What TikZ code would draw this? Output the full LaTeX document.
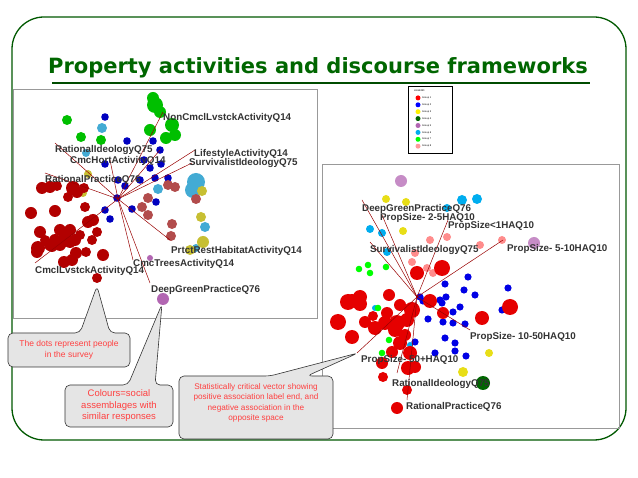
\documentclass[tikz,border=0pt]{standalone}
\usepackage{fontspec}
\setmainfont{Liberation Sans}
\newfontfamily\titlefont{DejaVu Sans}
\begin{document}
\begin{tikzpicture}[x=1pt,y=-1pt,
  lbl/.style={anchor=west,inner sep=0pt,font=\bfseries\fontsize{9.8}{10}\selectfont,text=black!80},
  vec/.style={draw=red!60!black,line width=0.5pt},
  call/.style={draw=black!80,fill=black!10,rounded corners=5pt,line width=0.6pt},
  calltxt/.style={text=red!75!white,align=center,inner sep=0pt}]
\useasboundingbox (0,0) rectangle (638,478);
\fill[white] (0,0) rectangle (638,478);
% frame
\draw[green!35!black,line width=1.3pt,rounded corners=32pt] (12,17) rectangle (626,440);
\node[font=\titlefont\bfseries\fontsize{21}{24}\selectfont,text=green!40!black] (title) at (318,68) {Property activities and discourse frameworks};
\draw[green!30!black,line width=1.5pt] (52,83) -- (590,83);
% legend
\node[draw=black,line width=0.8pt,minimum width=44pt,minimum height=67pt,inner sep=0pt] (legend) at (430,120) {};
\node[font=\fontsize{2.5}{3}\selectfont,anchor=west,inner sep=0pt] (lgh) at (414,91) {LEGEND:};
\foreach \i/\c in {1/red,2/blue,3/yellow,4/green!40!black,5/violet!60,6/cyan,7/green,8/red!40}{
  \fill[\c] (418,{91+6.9*\i}) circle (2.5pt);
  \node[font=\fontsize{2.5}{3}\selectfont,anchor=west,inner sep=0pt] (lg\i) at (422,{91+6.9*\i}) {Group \i};
}
% panels
\draw[black!40,line width=0.8pt] (13,89) rectangle (317,318);
\draw[black!40,line width=0.8pt] (322,164) rectangle (619,428);
% ---- left panel dots
\colorlet{dred}{red!70!black}
\colorlet{rose}{red!40!gray}
\colorlet{olive}{yellow!75!black}
\colorlet{tcyan}{cyan!70!gray}
\foreach \x/\y/\r in {67/120/5,155/105/8,153/98/6,172/125/7,150/130/6,166/138/6,81/137/5,101/140/5,160/112/6,175/135/6}
  \fill[green!75!black] (\x,\y) circle (\r pt);
\foreach \x/\y/\r in {102/128/5,86/153/4,196/182/9,193/190/8,158/189/5,205/227/5,196/248/4}
  \fill[tcyan] (\x,\y) circle (\r pt);
\foreach \x/\y in {105/117,127/141,153/141,105/164,144/160,140/180,118/180,125/186,117/198,105/210,155/178,110/219,168/178,156/202,132/209,161/164,160/150,150/168}
  \fill[blue!75!black] (\x,\y) circle (3.8pt);
\foreach \x/\y/\r in {88/174/4,83/193/4,202/191/5,201/217/5,203/242/6,190/250/5}
  \fill[olive] (\x,\y) circle (\r pt);
\foreach \x/\y in {168/185,175/187,148/198,142/207,148/215,172/224,171/236,196/199}
  \fill[rose] (\x,\y) circle (5pt);
\foreach \x/\y/\r in {42/188/6,50/187/6,57/186/5,73/188/7,77/192/6,68/197/5,84/188/5,31/213/6,55/211/6,85/207/5,40/232/6,60/230/6,70/230/6,65/240/7,55/240/6,50/245/6,60/245/6,70/242/6,75/240/6,38/248/7,37/252/6,52/246/6,80/235/5,88/222/6,93/220/6,97/232/5,76/253/6,86/252/5,103/255/6,64/262/6,72/260/6,97/278/5,92/240/5,45/240/5}
  \fill[dred] (\x,\y) circle (\r pt);
\fill[violet!60] (150,258) circle (3pt);
\fill[violet!60] (163,299) circle (6pt);
% left vectors
\coordinate (lc) at (118,199);
\foreach \x/\y in {163/112,55/143,45/173,110/160,195/150,192/163,170/240,133/260,150/283,35/263,160/150}{
  \coordinate (le) at (\x,\y);
  \draw[vec] (lc) -- (le);}
\node[lbl] (l1) at (163,118) {NonCmclLvstckActivityQ14};
\node[lbl] (l2) at (55,150) {RationalIdeologyQ75};
\node[lbl] (l3) at (70,161) {CmcHortActivityQ14};
\node[lbl] (l4) at (194,154) {LifestyleActivityQ14};
\node[lbl] (l5) at (189,163) {SurvivalistIdeologyQ75};
\node[lbl] (l6) at (45,180) {RationalPracticeQ76};
\node[lbl] (l7) at (171,251) {PrtctRestHabitatActivityQ14};
\node[lbl] (l8) at (133,264) {CmcTreesActivityQ14};
\node[lbl] (l9) at (35,271) {CmclLvstckActivityQ14};
\node[lbl] (l10) at (151,290) {DeepGreenPracticeQ76};
% ---- right panel dots
\fill[violet!45] (401,181) circle (6pt);
\fill[violet!45] (534,243) circle (6pt);
\foreach \x/\y/\r in {386/199/4,406/202/4,403/231/4,489/353/4,463/372/5}
  \fill[yellow!90!black] (\x,\y) circle (\r pt);
\foreach \x/\y/\r in {462/200/5,477/199/5,370/229/4,382/233/4,447/208/4,387/252/4,375/308/3,410/345/3}
  \fill[cyan] (\x,\y) circle (\r pt);
\foreach \x/\y in {359/269,370/273,368/265,386/267,378/308,389/340,382/353}
  \fill[green] (\x,\y) circle (3.3pt);
\fill[green!40!black] (483,383) circle (7pt);
\foreach \x/\y/\r in {430/240/4,447/237/4,480/245/4,502/240/4,415/253/4,427/268/4,433/273/4,412/262/4}
  \fill[red!45] (\x,\y) circle (\r pt);
\foreach \x/\y in {468/277,445/284,464/290,475/295,508/288,420/297,423/301,442/303,460/307,453/312,502/310,428/319,443/322,453/323,465/324,445/338,455/343,455/351,466/356,435/353,415/342,446/297,440/300}
  \fill[blue!90!black] (\x,\y) circle (3.6pt);
\foreach \x/\y/\r in {442/268/8,417/273/7,348/302/8,360/297/7,360/304/7,389/295/6,430/301/7,412/310/8,387/313/6,373/316/5,338/322/8,385/323/7,397/323/8,407/320/7,375/328/7,395/330/7,352/337/7,400/343/7,443/313/6,482/318/7,510/307/8,410/353/7,382/363/6,383/377/5,408/368/7,415/367/6,407/390/5,397/408/6,352/300/6,365/322/6,400/305/6,392/352/6,405/335/6}
  \fill[red!90!black] (\x,\y) circle (\r pt);
% right vectors
\coordinate (rc) at (417,297);
\foreach \x/\y in {362/200,382/215,448/220,370/242,503/240,470/330,357/353,397/373,407/400}{
  \coordinate (re) at (\x,\y);
  \draw[vec] (rc) -- (re);}
\node[lbl] (r1) at (362,209) {DeepGreenPracticeQ76};
\node[lbl] (r2) at (380,218) {PropSize- 2-5HAQ10};
\node[lbl] (r3) at (448,226) {PropSize<1HAQ10};
\node[lbl] (r4) at (370,250) {SurvivalistIdeologyQ75};
\node[lbl] (r5) at (507,249) {PropSize- 5-10HAQ10};
\node[lbl] (r6) at (470,337) {PropSize- 10-50HAQ10};
\node[lbl] (r7) at (361,360) {PropSize- 50+HAQ10};
\node[lbl] (r8) at (392,384) {RationalIdeologyQ75};
\node[lbl] (r9) at (406,407) {RationalPracticeQ76};
% callouts
\draw[call] (80,333) -- (97,286) -- (110,333) -- (130,333) -- (130,367) -- (8,367) -- (8,333) -- cycle;
\node[calltxt,font=\fontsize{8.5}{11}\selectfont] (c1) at (69,350) {The dots represent people\\in the survey};
\draw[call] (128,385) -- (162,304) -- (155,385) -- (173,385) -- (173,427) -- (65,427) -- (65,385) -- cycle;
\node[calltxt,font=\fontsize{9.5}{11.5}\selectfont] (c2) at (119,406) {Colours=social\\assemblages with\\similar responses};
\draw[call] (270,376) -- (358,353) -- (307,376) -- (333,376) -- (333,439) -- (179,439) -- (179,376) -- cycle;
\node[calltxt,font=\fontsize{8.2}{10.5}\selectfont] (c3) at (256,403) {Statistically critical vector showing\\positive association label end, and\\negative association in the\\opposite space};
\end{tikzpicture}
\end{document}
